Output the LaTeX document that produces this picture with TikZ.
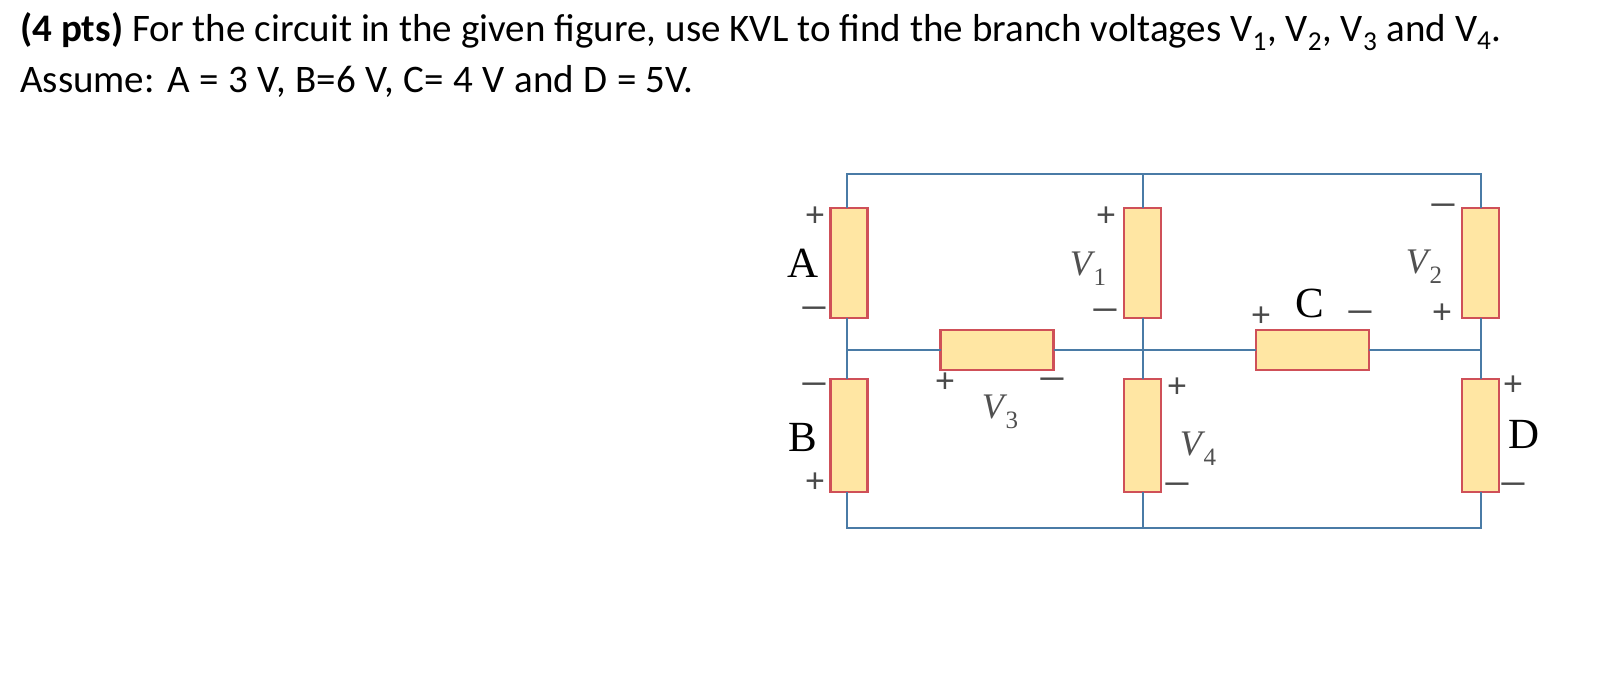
\documentclass[tikz,border=0pt]{standalone}
\usepackage{fontspec}
\setmainfont{Liberation Serif}
\newfontfamily\carl{Carlito}
\newfontfamily\signfont{Liberation Sans}
\definecolor{wire}{HTML}{4A7BA6}
\definecolor{resedge}{HTML}{CF5058}
\definecolor{resfill}{HTML}{FFE6A3}
\definecolor{signc}{HTML}{4A4A4A}
\definecolor{lab}{HTML}{505050}
\newcommand{\vsub}[2]{\textit{#1}\kern-1.5pt\raisebox{-10pt}{\fontsize{25}{25}\selectfont #2}}
\newcommand{\minussign}{\scalebox{1.4}[1]{−}}
\tikzset{
  prose/.style={anchor=base west,inner sep=0pt,font=\carl\fontsize{39}{44}\selectfont,text=black},
  wireline/.style={draw=wire,line width=2.6pt},
  vres/.style={draw=resedge,fill=resfill,line width=2.4pt,minimum width=37pt,minimum height=110pt,inner sep=0pt,outer sep=0pt},
  vresl/.style={vres,minimum height=113pt},
  hres/.style={draw=resedge,fill=resfill,line width=2.4pt,minimum width=113pt,minimum height=40pt,inner sep=0pt,outer sep=0pt},
  sign/.style={inner sep=0pt,text=signc,font=\signfont\fontsize{34}{34}\selectfont},
  letter/.style={inner sep=0pt,text=black,font=\fontsize{43}{43}\selectfont},
  vlab/.style={inner sep=0pt,text=lab,font=\fontsize{36}{36}\selectfont},
}
\begin{document}
\begin{tikzpicture}[x=1pt,y=-1pt]
\useasboundingbox (0,0) rectangle (1616,672);
\fill[white] (0,0) rectangle (1616,672);
\node[prose] (line1) at (20,41) {\spaceskip=9pt\textbf{(4 pts)} For the circuit in the given figure, use KVL to find the branch voltages V\textsubscript{1}, V\textsubscript{2}, V\textsubscript{3} and V\textsubscript{4}.};
\node[prose] (line2) at (20,92) {\spaceskip=9.5pt Assume: A = 3 V, B=6 V, C= 4 V and D = 5V.};

\coordinate (tl) at (847,174);
\coordinate (tm) at (1143,174);
\coordinate (tr) at (1481,174);
\coordinate (ml) at (847,350);
\coordinate (mm) at (1143,350);
\coordinate (mr) at (1481,350);
\coordinate (bl) at (847,528);
\coordinate (bm) at (1143,528);
\coordinate (br) at (1481,528);

\node[vres]  (A)  at (849,263)    {};
\node[vresl] (B)  at (849,435.5)  {};
\node[vres]  (R1) at (1142.5,263) {};
\node[vresl] (R4) at (1142.5,435.5) {};
\node[vres]  (R2) at (1480.5,263) {};
\node[vresl] (D)  at (1480.5,435.5) {};
\node[hres]  (R3) at (997,350)    {};
\node[hres]  (C)  at (1312.5,350) {};

\draw[wireline,line join=miter] (A.north -| tl) -- (tl) -- (tr) -- (R2.north -| tr);
\draw[wireline] (tm) -- (R1.north -| tm);
\draw[wireline] (A.south -| ml) -- (B.north -| ml);
\draw[wireline] (R1.south -| mm) -- (R4.north -| mm);
\draw[wireline] (R2.south -| mr) -- (D.north -| mr);
\draw[wireline] (ml) -- (R3.west);
\draw[wireline] (R3.east) -- (C.west);
\draw[wireline] (C.east) -- (mr);
\draw[wireline,line join=miter] (B.south -| bl) -- (bl) -- (br) -- (D.south -| br);
\draw[wireline] (R4.south -| bm) -- (bm);

\node[sign] (pA) at (815,217) {+};
\node[sign] (mA) at (814,313) {\minussign};
\node[sign] (mB) at (814,389) {\minussign};
\node[sign] (pB) at (815,483) {+};
\node[sign] (p1) at (1106,217) {+};
\node[sign] (m1) at (1105,315) {\minussign};
\node[sign] (p3) at (945,383) {+};
\node[sign] (m3) at (1052,384) {\minussign};
\node[sign] (p4) at (1177,388) {+};
\node[sign] (m4) at (1177,489) {\minussign};
\node[sign] (pC) at (1261,317) {+};
\node[sign] (mC) at (1360,317) {\minussign};
\node[sign] (m2) at (1443,210) {\minussign};
\node[sign] (p2) at (1442,314) {+};
\node[sign] (pD) at (1513,386) {+};
\node[sign] (mD) at (1513,489) {\minussign};

\node[letter] (lA) at (803,263) {A};
\node[letter] (lB) at (803,437) {B};
\node[letter] (lC) at (1310,303) {C};
\node[letter] (lD) at (1524,434) {D};
\node[vlab] (l1) at (1088,269) {\vsub{V}{1}};
\node[vlab] (l2) at (1424,267) {\vsub{V}{2}};
\node[vlab] (l3) at (1000,412) {\vsub{V}{3}};
\node[vlab] (l4) at (1198,449) {\vsub{V}{4}};
\end{tikzpicture}
\end{document}
